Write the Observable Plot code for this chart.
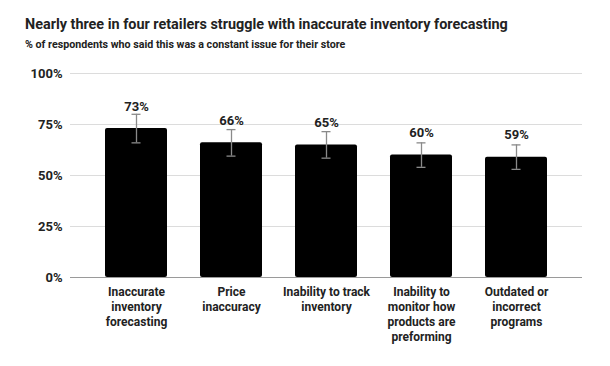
<!DOCTYPE html>
<html>
<head>
<meta charset="utf-8">
<script src="https://cdn.jsdelivr.net/npm/d3@7"></script>
<script src="https://cdn.jsdelivr.net/npm/@observablehq/plot@0.6"></script>
<style>
  html, body { margin: 0; padding: 0; background: #fff; }
  body { width: 610px; height: 366px; overflow: hidden; font-family: Roboto, "Noto Sans", sans-serif; color: #222; }
  #head { position: relative; height: 60px; }
  #title { position: absolute; left: 25px; top: 16px; font-size: 14.4px; font-weight: 700; line-height: 18px; white-space: nowrap; }
  #subtitle { position: absolute; left: 25px; top: 38px; font-size: 10.7px; font-weight: 700; line-height: 14px; white-space: nowrap; }
</style>
</head>
<body>
<div id="head">
  <div id="title">Nearly three in four retailers struggle with inaccurate inventory forecasting</div>
  <div id="subtitle">% of respondents who said this was a constant issue for their store</div>
</div>
<div id="chart"></div>
<script>
const categories = [
  "Inaccurate\ninventory\nforecasting",
  "Price\ninaccuracy",
  "Inability to track\ninventory",
  "Inability to\nmonitor how\nproducts are\npreforming",
  "Outdated or\nincorrect\nprograms"
];
const values = [73, 66, 65, 60, 59];
const errorLow = [66, 59.5, 58.5, 54, 53];
const errorHigh = [80, 72.5, 71.5, 66, 65];
const yTicks = [0, 25, 50, 75, 100];

const data = categories.map((c, i) => ({ cat: c, value: values[i], lo: errorLow[i], hi: errorHigh[i] }));

const chart = Plot.plot({
  width: 610,
  height: 306,
  marginLeft: 70,
  marginRight: 28,
  marginTop: 13,
  marginBottom: 89,
  style: { fontFamily: "Roboto, 'Noto Sans', sans-serif", color: "#222", background: "#fff" },
  x: { domain: categories, padding: 0.35, label: null },
  y: { domain: [0, 100], label: null },
  marks: [
    Plot.ruleY(yTicks.filter(d => d > 0), { stroke: "#dcdcdc", strokeWidth: 1 }),
    Plot.barY(data, { x: "cat", y: "value", fill: "#000", rx: 2 }),
    Plot.ruleY([0], { stroke: "#9a9a9a", strokeWidth: 1 }),
    Plot.ruleX(data, { x: "cat", y1: "lo", y2: "hi", stroke: "#8a8a8a", strokeWidth: 1.3 }),
    Plot.tickY(data, { x: "cat", y: "lo", stroke: "#8a8a8a", strokeWidth: 1.3, insetLeft: 26.5, insetRight: 26.5 }),
    Plot.tickY(data, { x: "cat", y: "hi", stroke: "#8a8a8a", strokeWidth: 1.3, insetLeft: 26.5, insetRight: 26.5 }),
    Plot.text(data, { x: "cat", y: "value", text: d => d.value + "%", dy: -22, fontSize: 13, fontWeight: 700, fill: "#222" }),
    Plot.axisY({ ticks: yTicks, tickFormat: d => d + "%", tickSize: 0, tickPadding: 8, fontSize: 13, fontWeight: 700, fill: "#222", label: null }),
    Plot.axisX({ tickSize: 0, tickPadding: 8, fontSize: 12, fontWeight: 700, fill: "#222", lineHeight: 1.25, label: null })
  ]
});
document.getElementById("chart").appendChild(chart);
</script>
</body>
</html>
